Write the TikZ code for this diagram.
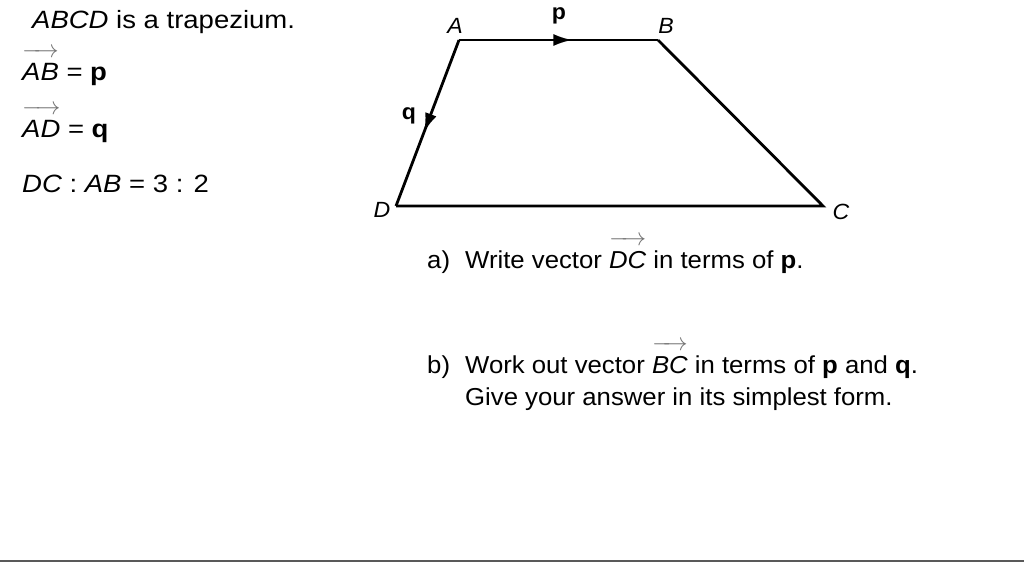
\documentclass[tikz,border=0pt]{standalone}
\usepackage{fontspec}
\setmainfont{Liberation Sans}
\newfontfamily\leftfont{Liberation Sans}[FakeStretch=1.1]
\newfontfamily\qfont{Liberation Sans}[FakeStretch=1.05]
\usetikzlibrary{arrows.meta,decorations.markings}
\newcommand{\myvec}[1]{\setbox0\hbox{\itshape #1}\rlap{\raisebox{23pt}{\makebox[\wd0]{\color{black!55}\rightarrowfill}}}\box0\relax}
\begin{document}
\begin{tikzpicture}[x=1pt,y=-1pt,
  ltxt/.style={anchor=base west, inner sep=0pt, font=\leftfont\fontsize{25}{30}\selectfont},
  qtxt/.style={anchor=base west, inner sep=0pt, font=\qfont\fontsize{24.5}{30}\selectfont},
  lbl/.style={inner sep=0pt, font=\qfont\fontsize{22}{26}\selectfont},
  side/.style={line width=2.8pt, line join=miter, line cap=butt},
  midarrow/.style={postaction={decorate}, decoration={markings, mark=at position #1 with {\arrow{Latex[length=19pt,width=12pt]}}}}
]
\useasboundingbox (0,0) rectangle (1024,562);
\fill[white] (0,0) rectangle (1024,562);
% vertices
\coordinate (A) at (459,40);
\coordinate (B) at (658,40);
\coordinate (C) at (823,206);
\coordinate (D) at (396,206);
\draw[side] (B) -- (C) -- (D);
\draw[side, midarrow=0.57] (A) -- (B);
\draw[side, midarrow=0.555] (A) -- (D);
% labels
\node[lbl] (lA) at (455,26) {\itshape A};
\node[lbl] (lB) at (666,26) {\itshape B};
\node[lbl] (lC) at (841,212) {\itshape C};
\node[lbl] (lD) at (382,210) {\itshape D};
\node[lbl] (lp) at (559,16) {\bfseries p};
\node[lbl] (lq) at (409,116) {\bfseries q};
% left text
\node[ltxt] (t1) at (32,28) {\itshape ABCD\upshape{} is a trapezium.};
\node[ltxt] (t2) at (22,80) {\myvec{AB} = \bfseries p};
\node[ltxt] (t3) at (22,137) {\myvec{AD} = \bfseries q};
\node[ltxt] (t4) at (22,192) {\itshape DC\upshape{} : \itshape AB\upshape{} = 3 : 2};
% questions
\node[qtxt] (a1) at (427,268) {a)};
\node[qtxt] (a2) at (465,268) {Write vector \myvec{DC} in terms of \textbf{p}.};
\node[qtxt] (b1) at (427,373) {b)};
\node[qtxt] (b2) at (465,373) {Work out vector \myvec{BC} in terms of \textbf{p} and \textbf{q}.};
\node[qtxt] (b3) at (465,405) {Give your answer in its simplest form.};
% bottom rule
\coordinate (L) at (0,561);
\coordinate (R) at (1024,561);
\draw[black!65, line width=2pt] (L) -- (R);
\end{tikzpicture}
\end{document}
